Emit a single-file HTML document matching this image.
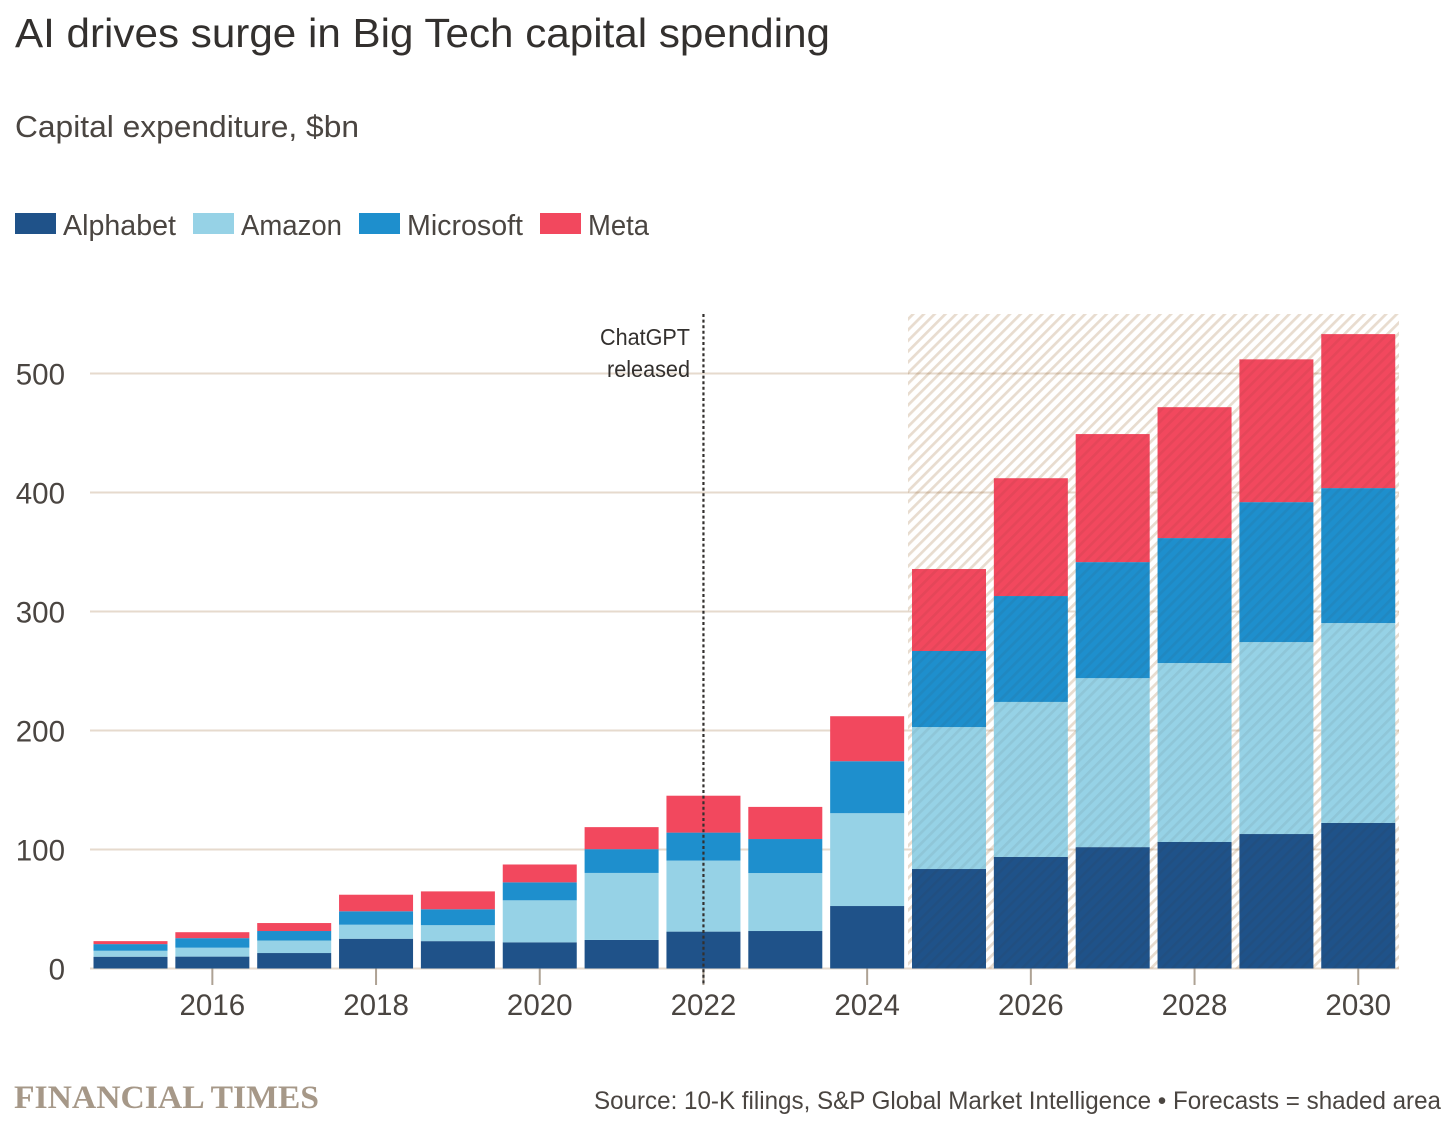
<!DOCTYPE html>
<html lang="en">
<head>
<meta charset="utf-8">
<title>AI drives surge in Big Tech capital spending</title>
<style>
html,body{margin:0;padding:0;background:#fff;width:1456px;height:1144px;overflow:hidden}
svg{display:block}
text{font-family:"Liberation Sans",sans-serif;fill:#4a4541}
#grid line{mix-blend-mode:multiply}
</style>
</head>
<body>
<svg id="chart" xmlns="http://www.w3.org/2000/svg" width="1456" height="1144" viewBox="0 0 1456 1144">
<defs>
<pattern id="hatch" width="7.6" height="7.6" patternUnits="userSpaceOnUse" patternTransform="rotate(45)">
<rect width="2.7" height="7.6" fill="#e8dccf"/>
</pattern>
<pattern id="barhatch" width="7.6" height="7.6" patternUnits="userSpaceOnUse" patternTransform="rotate(45)">
<rect width="2.7" height="7.6" fill="#3a2a20" fill-opacity="0.07"/>
</pattern>
</defs>

<text x="15" y="47" font-size="41" textLength="815" lengthAdjust="spacingAndGlyphs" style="fill:#33302e">AI drives surge in Big Tech capital spending</text>
<text x="15" y="137" font-size="31" textLength="344" lengthAdjust="spacingAndGlyphs">Capital expenditure, $bn</text>

<g>
<g><rect x="15" y="213" width="41" height="21" fill="#1f5289"/><text x="63" y="235" font-size="29" textLength="113" lengthAdjust="spacingAndGlyphs">Alphabet</text></g>
<g><rect x="193" y="213" width="41" height="21" fill="#96d2e6"/><text x="241" y="235" font-size="29" textLength="101" lengthAdjust="spacingAndGlyphs">Amazon</text></g>
<g><rect x="359" y="213" width="41" height="21" fill="#1e8fcd"/><text x="407" y="235" font-size="29" textLength="116" lengthAdjust="spacingAndGlyphs">Microsoft</text></g>
<g><rect x="540" y="213" width="41" height="21" fill="#f2485e"/><text x="588" y="235" font-size="29" textLength="61" lengthAdjust="spacingAndGlyphs">Meta</text></g>
</g>

<rect id="forecast-area" fill="url(#hatch)"/>
<g id="grid"></g>
<g id="bars"></g>
<g id="xaxis"></g>
<g id="yaxis"></g>

<line id="chatgpt-line" stroke="#33302e" stroke-width="2.2" stroke-dasharray="3 2.6"/>
<text x="690" y="345" font-size="23" text-anchor="end" textLength="90" lengthAdjust="spacingAndGlyphs" style="fill:#33302e">ChatGPT</text>
<text x="690" y="377" font-size="23" text-anchor="end" textLength="83" lengthAdjust="spacingAndGlyphs" style="fill:#33302e">released</text>

<text x="14" y="1108" font-size="33" font-weight="700" textLength="305" lengthAdjust="spacingAndGlyphs" style="font-family:'Liberation Serif',serif;fill:#a69888">FINANCIAL TIMES</text>
<text x="594" y="1109" font-size="25" textLength="847" lengthAdjust="spacingAndGlyphs">Source: 10-K filings, S&amp;P Global Market Intelligence • Forecasts = shaded area</text>
</svg>

<script>
const years = [2015,2016,2017,2018,2019,2020,2021,2022,2023,2024,2025,2026,2027,2028,2029,2030];
const alphabet = [9.9,10,13,25,23,22,24,31,31.5,52.5,83.6,93.7,102,106.3,113,122.3];
const amazon = [5,7.5,10.5,11.8,13.4,35.3,56.3,59.7,48.7,78,119.3,130.3,142,150.4,161.3,168];
const microsoft = [5.6,8,8,11.3,13.4,15.1,20,23.5,28.6,43.7,63.9,89,97.5,105,117.6,113.4];
const meta = [2.5,5,6.7,13.9,15,15,18.5,31,27,37.8,68.9,99,107.6,110,120,129.4];
const yTicks = [0,100,200,300,400,500];
const xTicks = [2016,2018,2020,2022,2024,2026,2028,2030];
const firstForecastYear = 2025;
const releaseYear = 2022;
const yMaxShown = 550;

const NS = 'http://www.w3.org/2000/svg';
const yScale = v => 968.5 - v * 1.19;
const xScale = yr => 130.5 + (yr - 2015) * 81.85;
const barWidth = 74;

function make(tag, attrs, parent) {
  const el = document.createElementNS(NS, tag);
  for (const k in attrs) el.setAttribute(k, attrs[k]);
  parent.appendChild(el);
  return el;
}

const seriesList = [
  { key: 'alphabet', values: alphabet, color: '#1f5289' },
  { key: 'amazon', values: amazon, color: '#96d2e6' },
  { key: 'microsoft', values: microsoft, color: '#1e8fcd' },
  { key: 'meta', values: meta, color: '#f2485e' }
];

const areaLeft = xScale(firstForecastYear) - barWidth / 2 - 4;
const area = document.getElementById('forecast-area');
area.setAttribute('x', areaLeft);
area.setAttribute('y', yScale(yMaxShown));
area.setAttribute('width', 1399 - areaLeft);
area.setAttribute('height', yScale(0) - yScale(yMaxShown));

const grid = document.getElementById('grid');
yTicks.forEach(t => {
  const line = make('line', { x1: 90, x2: 1399, y1: yScale(t), y2: yScale(t), stroke: '#e6dacd', 'stroke-width': 2 }, grid);
  
  
});

const barsG = document.getElementById('bars');
years.forEach((yr, i) => {
  let base = 0;
  const x = xScale(yr) - barWidth / 2;
  seriesList.forEach(s => {
    const v = s.values[i];
    const top = yScale(base + v);
    const bottom = yScale(base);
    const rect = make('rect', { x: x, y: top, width: barWidth, height: bottom - top, fill: s.color }, barsG);
    
    
    if (yr >= firstForecastYear) {
      const overlay = make('rect', { x: x, y: top, width: barWidth, height: bottom - top, fill: 'url(#barhatch)' }, barsG);
      
      
    }
    base += v;
  });
});

const xAxis = document.getElementById('xaxis');
xTicks.forEach(yr => {
  const tick = make('line', { x1: xScale(yr), x2: xScale(yr), y1: yScale(0), y2: 985, stroke: '#aea294', 'stroke-width': 2 }, xAxis);
  
  
  const label = make('text', { x: xScale(yr), y: 1015, 'font-size': 29.5, 'text-anchor': 'middle' }, xAxis);
  
  
  label.textContent = yr;
});

const yAxis = document.getElementById('yaxis');
yTicks.forEach(t => {
  const label = make('text', { x: 65, y: yScale(t) + 11, 'font-size': 29.5, 'text-anchor': 'end' }, yAxis);
  
  
  label.textContent = t;
});

const rel = document.getElementById('chatgpt-line');
rel.setAttribute('x1', xScale(releaseYear));
rel.setAttribute('x2', xScale(releaseYear));
rel.setAttribute('y1', yScale(yMaxShown));
rel.setAttribute('y2', 985);
</script>
</body>
</html>
